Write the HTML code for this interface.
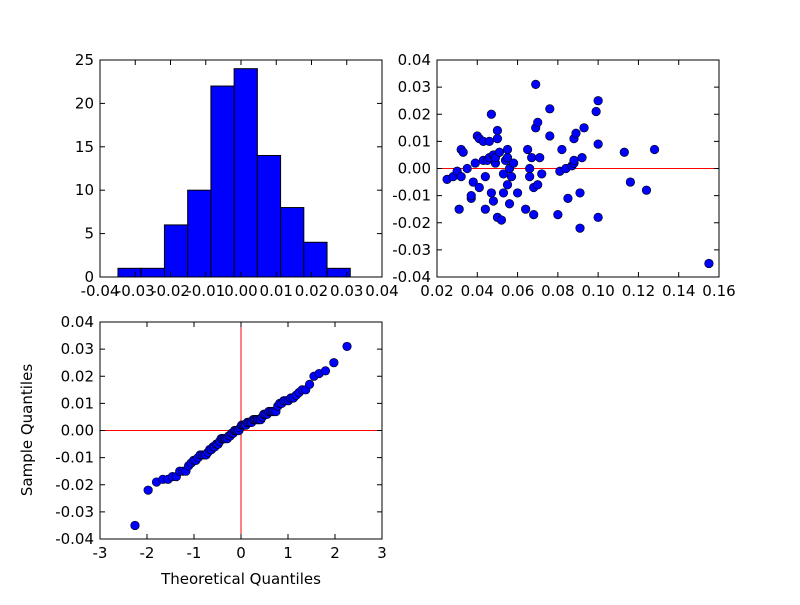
<!DOCTYPE html>
<html><head><meta charset="utf-8"><style>
body{margin:0;background:#fff}
svg text{font-family:"DejaVu Sans","Liberation Sans",sans-serif;font-size:15px;fill:#000}
</style></head><body>
<svg id="fig" width="800" height="600" xmlns="http://www.w3.org/2000/svg"></svg>
<script>
const histCounts=[1,1,6,10,22,24,14,8,4,1];
const histMin=-0.0349, histMax=0.031;
const histTicks=[-0.04,-0.03,-0.02,-0.01,0.00,0.01,0.02,0.03,0.04];
const histYTicks=[0,5,10,15,20,25];
const fitted=[0.025,0.028,0.030,0.032,0.033,0.031,0.032,0.035,0.037,0.037,0.038,0.039,0.040,0.041,0.041,0.043,0.043,0.044,0.044,0.045,0.046,0.046,0.047,0.047,0.048,0.048,0.049,0.049,0.050,0.050,0.050,0.051,0.052,0.053,0.053,0.054,0.055,0.055,0.055,0.056,0.056,0.057,0.058,0.060,0.064,0.065,0.066,0.066,0.067,0.068,0.068,0.069,0.069,0.070,0.070,0.071,0.072,0.076,0.076,0.080,0.081,0.082,0.084,0.085,0.087,0.088,0.088,0.088,0.089,0.091,0.091,0.092,0.093,0.099,0.100,0.100,0.100,0.113,0.116,0.124,0.128,0.155];
const resid=[-0.004,-0.003,-0.001,0.007,0.006,-0.015,-0.003,0.000,-0.011,-0.010,-0.005,0.002,0.012,-0.007,0.011,0.010,0.003,-0.015,-0.003,0.003,0.004,0.010,0.020,-0.009,-0.012,0.005,0.002,0.004,0.014,0.011,-0.018,0.006,-0.019,-0.002,-0.009,0.003,-0.006,0.004,0.007,-0.013,0.000,-0.003,0.002,-0.009,-0.015,0.007,0.000,-0.003,0.004,-0.007,-0.017,0.031,0.015,0.017,-0.006,0.004,-0.002,0.022,0.012,-0.017,-0.001,0.007,0.000,-0.011,0.001,0.002,0.003,0.011,0.013,-0.022,-0.009,0.004,0.015,0.021,0.025,0.009,-0.018,0.006,-0.005,-0.008,0.007,-0.035];
const scXTicks=[0.02,0.04,0.06,0.08,0.10,0.12,0.14,0.16];
const resTicks=[-0.04,-0.03,-0.02,-0.01,0.00,0.01,0.02,0.03,0.04];
const qqXTicks=[-3,-2,-1,0,1,2,3];

const svg=document.getElementById('fig');
const NS='http://www.w3.org/2000/svg';
function mk(tag,at,parent){const e=document.createElementNS(NS,tag);for(const k in at)e.setAttribute(k,at[k]);(parent||svg).appendChild(e);return e;}
function fmt2(v){return v.toFixed(2);}
function axes(name,x0,y0,w,h,xs,ys,xt,yt,xf,yf){
  const g=mk('g',{});
  
  
  xt.forEach(t=>{const X=xs(t);
    mk('line',{x1:X,x2:X,y1:y0,y2:y0+5,stroke:'#000'},g);mk('line',{x1:X,x2:X,y1:y0+h,y2:y0+h-5,stroke:'#000'},g);
    const tx=mk('text',{x:X,y:y0+h+19,'text-anchor':'middle'},g);tx.textContent=xf(t);
    
    });
  yt.forEach(t=>{const Y=ys(t);
    mk('line',{x1:x0,x2:x0+5,y1:Y,y2:Y,stroke:'#000'},g);mk('line',{x1:x0+w,x2:x0+w-5,y1:Y,y2:Y,stroke:'#000'},g);
    const tx=mk('text',{x:x0-6,y:Y+5,'text-anchor':'end'},g);tx.textContent=yf(t);
    
    });
  return g;
}
// Histogram
const hx=v=>100+(v+0.04)/0.08*282, hy=v=>277-v/25*217;
const bw=(histMax-histMin)/histCounts.length;
histCounts.forEach((c,i)=>{const a=hx(histMin+i*bw),b=hx(histMin+(i+1)*bw);
  const r=mk('rect',{x:a,y:hy(c),width:b-a,height:hy(0)-hy(c),fill:'#0000ff',stroke:'#000','stroke-width':1});
  
  });
mk('rect',{x:100,y:60,width:282,height:217,fill:'none',stroke:'#000'});
axes('histogram-axes',100,60,282,217,hx,hy,histTicks,histYTicks,fmt2,v=>String(v));
// Scatter
const sx=v=>437+(v-0.02)/0.14*282, sy=v=>168.5-v/0.08*217;
mk('line',{x1:437,x2:719,y1:sy(0),y2:sy(0),stroke:'#ff0000'});
fitted.forEach((f,i)=>{const c=mk('circle',{cx:sx(f),cy:sy(resid[i]),r:4.3,fill:'#0000ff',stroke:'#000','stroke-width':0.6});
  
  });
mk('rect',{x:437,y:60,width:282,height:217,fill:'none',stroke:'#000'});
axes('residual-axes',437,60,282,217,sx,sy,scXTicks,resTicks,fmt2,fmt2);
// QQ
const qx=v=>100+(v+3)/6*282, qy=v=>430.5-v/0.08*217;
function ninv(p){const a=[-39.6968302866538,220.946098424521,-275.928510446969,138.357751867269,-30.6647980661472,2.50662827745924],b=[-54.4760987982241,161.585836858041,-155.698979859887,66.8013118877197,-13.2806815528857],c=[-0.00778489400243029,-0.322396458041136,-2.40075827716184,-2.54973253934373,4.37466414146497,2.93816398269878],d=[0.00778469570904146,0.32246712907004,2.445134137143,3.75440866190742];
 let q,r;if(p<0.02425){q=Math.sqrt(-2*Math.log(p));return(((((c[0]*q+c[1])*q+c[2])*q+c[3])*q+c[4])*q+c[5])/((((d[0]*q+d[1])*q+d[2])*q+d[3])*q+1);}
 if(p>1-0.02425){q=Math.sqrt(-2*Math.log(1-p));return-(((((c[0]*q+c[1])*q+c[2])*q+c[3])*q+c[4])*q+c[5])/((((d[0]*q+d[1])*q+d[2])*q+d[3])*q+1);}
 q=p-0.5;r=q*q;return(((((a[0]*r+a[1])*r+a[2])*r+a[3])*r+a[4])*r+a[5])*q/(((((b[0]*r+b[1])*r+b[2])*r+b[3])*r+b[4])*r+1);}
mk('line',{x1:100,x2:382,y1:qy(0),y2:qy(0),stroke:'#ff0000'});
mk('line',{x1:qx(0),x2:qx(0),y1:322,y2:539,stroke:'#ff0000'});
const sorted=resid.slice().sort((a,b)=>a-b),n=sorted.length;
sorted.forEach((v,i)=>{const t=ninv((i+1)/(n+1));
  const c=mk('circle',{cx:qx(t),cy:qy(v),r:4.3,fill:'#0000ff',stroke:'#000','stroke-width':0.6});
  
  });
mk('rect',{x:100,y:322,width:282,height:217,fill:'none',stroke:'#000'});
axes('qq-axes',100,322,282,217,qx,qy,qqXTicks,resTicks,v=>String(v),fmt2);
const xl=mk('text',{x:241,y:584,'text-anchor':'middle'});xl.textContent='Theoretical Quantiles';


const yl=mk('text',{x:32,y:430,'text-anchor':'middle',transform:'rotate(-90 32 430)'});yl.textContent='Sample Quantiles';


</script>
</body></html>
